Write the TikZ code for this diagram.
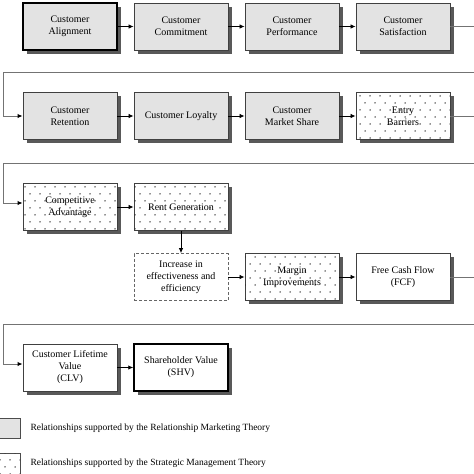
\documentclass[tikz,border=0pt]{standalone}
\usepackage{fontspec}
\setmainfont{Liberation Serif}
\usetikzlibrary{arrows.meta,shadows,patterns.meta}

\pgfdeclarepattern{
  name=staggerdots,
  type=uncolored,
  bottom left={\pgfpoint{-1pt}{-1pt}},
  top right={\pgfpoint{9pt}{13pt}},
  tile size={\pgfpoint{10pt}{14pt}},
  code={
    \pgfpathcircle{\pgfpoint{0pt}{0pt}}{0.75pt}
    \pgfpathcircle{\pgfpoint{5pt}{7pt}}{0.75pt}
    \pgfusepath{fill}
  }
}

\begin{document}
\begin{tikzpicture}[x=1pt, y=-1pt, node distance=111pt, font=\fontsize{10}{12}\selectfont]
	% Define styles
	\tikzstyle{stage} = [rectangle, draw=black!75, line width=0.9pt, minimum width=94pt, minimum height=47pt, align=center, drop shadow={shadow xshift=3.5pt, shadow yshift=-3.5pt, fill=black!65, opacity=1}]
	\tikzstyle{rmtheory} = [stage, fill=black!11]
	\tikzstyle{smtheory} = [stage, fill=white, postaction={pattern=staggerdots, pattern color=black!85}]
	\tikzstyle{outcome} = [stage, fill=white]
	\tikzstyle{endpoint} = [draw=black, line width=1.5pt]
	\tikzstyle{effect} = [rectangle, draw=black!60, dashed, dash pattern=on 3pt off 2pt, line width=0.8pt, fill=white, minimum width=94pt, minimum height=47pt, align=center]
	\tikzstyle{flow} = [draw=black, line width=0.8pt, -{Latex[length=5pt,width=4.5pt]}]
	\tikzstyle{wrap} = [draw=black!55, line width=1pt, -{Latex[length=5pt,width=4.5pt,color=black]}]
	\tikzstyle{keybox} = [rectangle, draw=black!70, line width=0.8pt, minimum width=21pt, minimum height=20pt]
	\tikzstyle{keytext} = [anchor=west, font=\fontsize{9.5}{11}\selectfont]

	\useasboundingbox (0,0) rectangle (474,474);

	% Nodes
	\node[rmtheory, endpoint] (align) at (70,26.5) {Customer\\Alignment};
	\node[rmtheory, right of=align] (commit) {Customer\\Commitment};
	\node[rmtheory, right of=commit] (perform) {Customer\\Performance};
	\node[rmtheory, right of=perform] (satisf) {Customer\\Satisfaction};

	\node[rmtheory] (retain) at (70,116) {Customer\\Retention};
	\node[rmtheory, right of=retain] (loyal) {Customer Loyalty};
	\node[rmtheory, right of=loyal] (share) {Customer\\Market Share};
	\node[smtheory, right of=share] (barrier) {Entry\\Barriers};

	\node[smtheory] (compadv) at (70,207) {Competitive\\Advantage};
	\node[smtheory, right of=compadv] (rent) {Rent Generation};
	\node[effect, below of=rent, node distance=70pt] (effic) {Increase in\\effectiveness and\\efficiency};
	\node[smtheory, right of=effic] (margin) {Margin\\Improvements};
	\node[outcome, right of=margin] (fcf) {Free Cash Flow\\(FCF)};

	\node[outcome] (clv) at (70,367.5) {Customer Lifetime\\Value\\(CLV)};
	\node[outcome, endpoint, right of=clv] (shv) {Shareholder Value\\(SHV)};

	% Legend
	\node[keybox, fill=black!11] (keyrm) at (9.5,428) {};
	\node[keytext] (keyrmtext) at (27,428) {Relationships supported by the Relationship Marketing Theory};
	\node[keybox, fill=white, postaction={pattern=staggerdots, pattern color=black!85}, minimum height=24pt] (keysm) at (9.5,465) {};
	\node[keytext] (keysmtext) at (27,463) {Relationships supported by the Strategic Management Theory};

	% Arrows
	\draw[flow] (align) -- (commit);
	\draw[flow] (commit) -- (perform);
	\draw[flow] (perform) -- (satisf);
	\draw[wrap] (satisf.east) -| (476,72) -| (3,116) -- (retain.west);
	\draw[flow] (retain) -- (loyal);
	\draw[flow] (loyal) -- (share);
	\draw[flow] (share) -- (barrier);
	\draw[wrap] (barrier.east) -| (476,163) -| (3,203) -- (compadv.west |- 0,203);
	\draw[flow] (compadv) -- (rent);
	\draw[flow] (rent) -- (effic);
	\draw[flow] (effic) -- (margin);
	\draw[flow] (margin) -- (fcf);
	\draw[wrap] (fcf.east) -| (476,324) -| (3,364) -- (clv.west |- 0,364);
	\draw[flow] (clv) -- (shv);
\end{tikzpicture}
\end{document}
